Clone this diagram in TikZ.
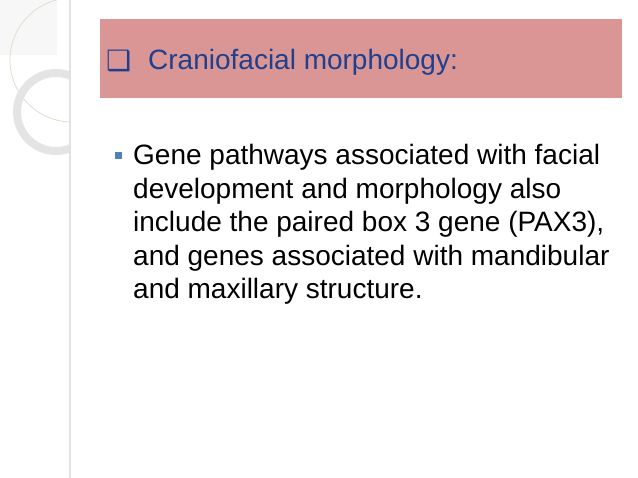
\documentclass[tikz,border=0pt]{standalone}
\usepackage{fontspec}
\setmainfont{Liberation Sans}
\newfontfamily\djfont{DejaVu Sans}
\begin{document}
\begin{tikzpicture}[x=1pt,y=-1pt,
 body/.style={anchor=base west,inner sep=0pt,font=\fontsize{28}{32}\selectfont,text=black}]
\useasboundingbox (0,0) rectangle (638,478);
\fill[white] (0,0) rectangle (638,478);
\begin{scope}
\clip (0,0) rectangle (70,478);
\fill[black!3] (0,0) rectangle (57,55);
\draw[color={rgb,255:red,225;green,222;blue,205},line width=0.8pt] (72,60) circle (62);
\draw[color={rgb,255:red,228;green,228;blue,228},line width=8pt] (56,112) circle (39);
\end{scope}
\draw[color={rgb,255:red,225;green,225;blue,225},line width=1.5pt] (70,0) -- (70,478);
\node[fill={rgb,255:red,217;green,150;blue,148},minimum width=522,minimum height=79,inner sep=0,anchor=north west] (title) at (100,19) {};
\node[anchor=base west,inner sep=0,text={rgb,255:red,31;green,63;blue,143},font=\djfont\bfseries\fontsize{28}{30}\selectfont] (chk) at (106,71) {❑};
\node[anchor=base west,inner sep=0,text={rgb,255:red,31;green,63;blue,143},font=\fontsize{28}{32}\selectfont] (tt) at (148,70) {Craniofacial morphology:};
\node[fill={rgb,255:red,79;green,129;blue,189},minimum size=7,inner sep=0] (b) at (118,156) {};
\node[body] (l1) at (133,165) {Gene pathways associated with facial};
\node[body] (l2) at (133,198.5) {development and morphology also};
\node[body] (l3) at (133,232) {include the paired box 3 gene (PAX3),};
\node[body] (l4) at (133,265.5) {and genes associated with mandibular};
\node[body] (l5) at (133,299) {and maxillary structure.};
\end{tikzpicture}
\end{document}
